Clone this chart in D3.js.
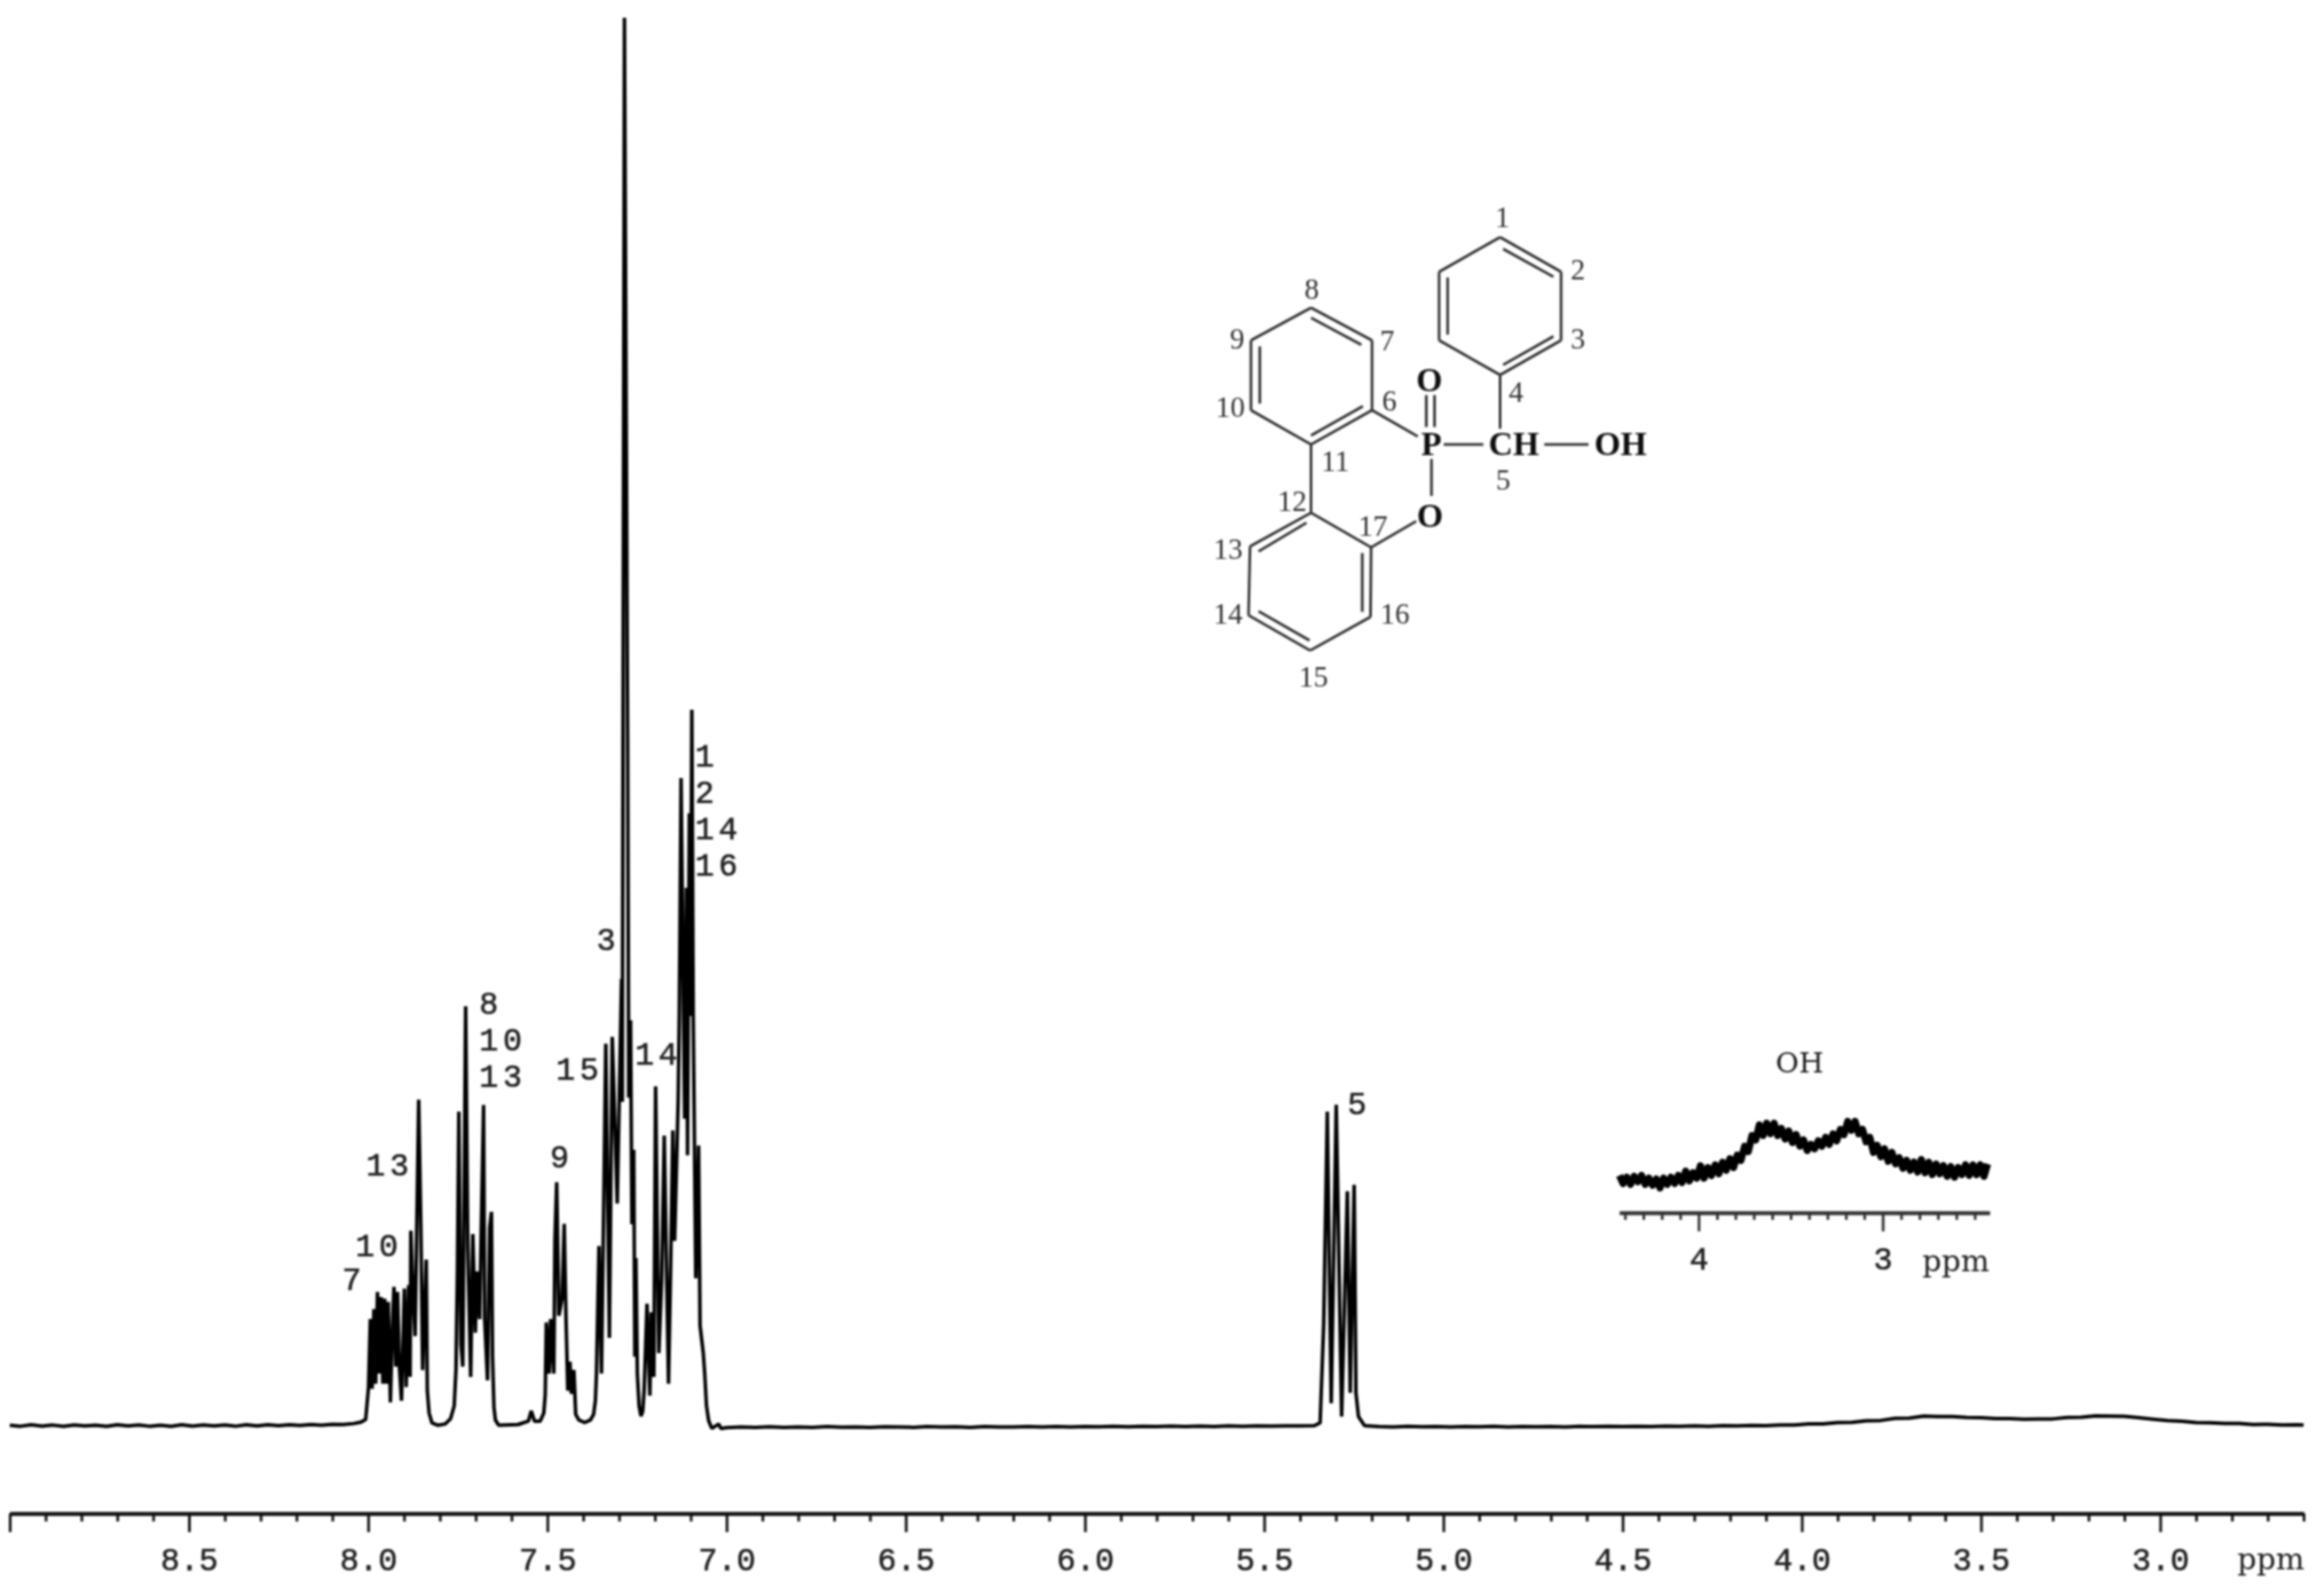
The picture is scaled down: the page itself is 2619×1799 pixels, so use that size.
<!DOCTYPE html>
<html><head><meta charset="utf-8">
<script src="https://cdn.jsdelivr.net/npm/d3@7/dist/d3.min.js"></script>
<style>html,body{margin:0;padding:0;background:#fff}svg{display:block}
.mono{font-family:"Liberation Mono",monospace;font-size:36px;fill:#222;stroke:#222;stroke-width:0.6px}
.peak{letter-spacing:5px}
.serif{font-family:"Liberation Serif",serif;fill:#333}
.slab{font-family:"DejaVu Serif",serif;font-size:34px;fill:#222}
</style></head><body><svg id="c" width="2619" height="1799"></svg>
<script>
// ---------- main spectrum, digitised (ppm / relative intensity, tallest = 100) ----------
const leftBasePpm=[9.00,8.97,8.94,8.91,8.88,8.85,8.82,8.79,8.76,8.73,8.70,8.67,8.64,8.61,8.58,8.55,8.52,8.49,8.46,8.43,8.40,8.37,8.34,8.31,8.28,8.25,8.22,8.19,8.16,8.13,8.10,8.07,8.04,8.02];
const leftBaseInt=[0.03,-0.04,0.06,-0.03,0.04,-0.05,0.05,-0.02,0.03,-0.05,0.06,-0.02,0.05,-0.04,0.03,-0.05,0.06,-0.03,0.04,-0.02,0.05,-0.04,0.06,-0.02,0.06,0.0,0.07,0.01,0.08,0.03,0.1,0.08,0.15,0.25];
const aromaticPpm=[8.007,7.999,7.994,7.989,7.984,7.979,7.974,7.969,7.964,7.959,7.954,7.949,7.944,7.938,7.933,7.928,7.923,7.918,7.913,7.907,7.899,7.894,7.887,7.883,7.881,7.875,7.869,7.859,7.853,7.848,7.838,7.835,7.830,7.822,7.805,7.785,7.770,7.760,7.755,7.751,7.747,7.741,7.736,7.728,7.722,7.714,7.708,7.701,7.697,7.689,7.678,7.675,7.667,7.661,7.656,7.653,7.649,7.645,7.636,7.582,7.553,7.545,7.536,7.520,7.510,7.506,7.503,7.495,7.491,7.482,7.479,7.474,7.468,7.459,7.453,7.448,7.443,7.437,7.433,7.426,7.421,7.412,7.396,7.380,7.371,7.366,7.363,7.356,7.349,7.337,7.327,7.319,7.305,7.293,7.291,7.285,7.276,7.273,7.268,7.264,7.259,7.256,7.253,7.249,7.244,7.239,7.234,7.230,7.222,7.214,7.210,7.203,7.198,7.189,7.181,7.174,7.162,7.156,7.150,7.145,7.135,7.132,7.127,7.117,7.112,7.109,7.104,7.101,7.097,7.093,7.086,7.078,7.074,7.065,7.061,7.056,7.050,7.041,7.022,7.016];
const aromaticInt=[0.44,2.74,7.57,2.62,8.29,2.98,9.5,3.7,9.14,2.98,9.02,2.98,8.78,1.65,6.36,9.86,4.19,9.5,4.19,1.77,9.74,2.74,9.98,3.46,13.85,9.5,6.36,23.15,14.09,3.95,11.8,2.49,0.9,0.2,0.03,0.12,0.5,1.4,4.0,10.95,22.3,5.76,4.19,29.79,12.64,3.46,13.61,6.6,10.95,7.57,22.78,7.57,3.22,14.09,15.18,4.91,1.29,0.4,0.03,0.08,0.32,1.05,0.32,0.32,0.9,2.2,7.33,3.7,7.57,3.7,13.12,17.3,7.81,9.02,14.33,7.57,2.49,4.55,2.26,3.95,0.8,0.4,0.22,0.4,0.8,1.8,3.7,12.76,3.7,27.13,6.24,27.61,15.78,31.72,23.0,100,48.5,23.3,28.8,14.3,19.6,4.9,11.9,3.7,1.4,0.68,1.0,2.5,8.66,2.13,8.05,3.46,24.1,5.15,10.47,20.6,2.98,11.43,20.97,13.12,23.15,29.06,46.0,21.8,38.2,19.2,43.5,29.1,50.85,29.1,10.47,19.9,7.1,5.15,3.7,1.4,0.35,-0.2,0.12,-0.2];
const midBasePpm=[7.00,6.96,6.92,6.88,6.84,6.80,6.76,6.72,6.68,6.64,6.60,6.56,6.52,6.48,6.44,6.40,6.36,6.32,6.28,6.24,6.20,6.16,6.12,6.08,6.04,6.00,5.96,5.92,5.88,5.84,5.80,5.76,5.72,5.68,5.64,5.60,5.56,5.52,5.48,5.44,5.40,5.36];
const midBaseInt=[-0.14,-0.1,-0.13,-0.08,-0.12,-0.09,-0.13,-0.07,-0.11,-0.09,-0.12,-0.08,-0.1,-0.12,-0.07,-0.1,-0.08,-0.12,-0.07,-0.09,-0.1,-0.06,-0.09,-0.07,-0.1,-0.06,-0.08,-0.05,-0.08,-0.05,-0.07,-0.03,-0.06,-0.03,-0.06,-0.02,-0.04,-0.01,-0.03,-0.01,-0.02,0.0];
const methinePpm=[5.344,5.334,5.324,5.313,5.299,5.284,5.268,5.26,5.249,5.244,5.237,5.22];
const methineInt=[0.2,7.2,22.3,1.6,22.8,0.65,16.65,2.33,17.1,2.33,0.65,0.0];
const rightBasePpm=[5.18,5.14,5.10,5.06,5.02,4.98,4.94,4.90,4.86,4.82,4.78,4.74,4.70,4.66,4.62,4.58,4.54,4.50,4.46,4.42,4.38,4.34,4.30,4.26,4.22,4.18,4.14,4.10,4.06,4.02,3.98,3.94,3.90,3.86,3.82,3.78,3.74,3.70,3.66,3.62,3.58,3.54,3.50,3.46,3.42,3.38,3.34,3.30,3.26,3.22,3.18,3.14,3.10,3.06,3.02,2.98,2.94,2.90,2.86,2.82,2.78,2.74,2.70,2.66,2.62,2.60];
const rightBaseInt=[-0.06,-0.09,-0.05,-0.08,-0.06,-0.09,-0.06,-0.08,-0.05,-0.09,-0.06,-0.08,-0.06,-0.09,-0.05,-0.07,-0.05,-0.07,-0.04,-0.06,-0.03,-0.05,-0.02,-0.04,0.0,-0.02,0.02,0.0,0.05,0.04,0.12,0.12,0.22,0.23,0.34,0.37,0.52,0.54,0.68,0.64,0.64,0.58,0.56,0.5,0.5,0.45,0.48,0.48,0.58,0.6,0.7,0.68,0.66,0.56,0.46,0.36,0.32,0.22,0.2,0.15,0.16,0.08,0.1,0.04,0.07,0.05];

// ---------- inset: OH signal ----------
const insetPpm=[4.43,4.41,4.39,4.37,4.35,4.33,4.31,4.29,4.27,4.25,4.23,4.21,4.19,4.17,4.15,4.13,4.11,4.09,4.07,4.05,4.03,4.01,3.99,3.97,3.95,3.93,3.91,3.89,3.87,3.85,3.83,3.81,3.79,3.77,3.75,3.73,3.71,3.69,3.67,3.65,3.63,3.61,3.59,3.57,3.55,3.53,3.51,3.49,3.47,3.45,3.43,3.41,3.39,3.37,3.35,3.33,3.31,3.29,3.27,3.25,3.23,3.21,3.19,3.17,3.15,3.13,3.11,3.09,3.07,3.05,3.03,3.01,2.99,2.97,2.95,2.93,2.91,2.89,2.87,2.85,2.83,2.81,2.79,2.77,2.75,2.73,2.71,2.69,2.67,2.65,2.63,2.61,2.59,2.57,2.55,2.53,2.51,2.49,2.47,2.45,2.43];
const insetInt=[15,6,13,5,14,8,15,5,12,4,11,1,12,5,13,6,15,7,20,9,18,12,26,12,24,15,27,17,30,21,34,24,38,32,48,42,60,55,72,60,74,62,74,60,68,56,65,52,61,48,55,43,50,45,54,48,58,50,62,54,67,61,76,66,76,62,67,53,58,41,49,36,45,31,41,28,35,23,32,21,30,19,33,18,30,16,28,17,26,14,25,13,24,16,27,15,27,16,27,14,28];

// ---------- axes ----------
const mainMajor=[9.0,8.5,8.0,7.5,7.0,6.5,6.0,5.5,5.0,4.5,4.0,3.5,3.0];
const mainMinor=[8.9,8.8,8.7,8.6,8.4,8.3,8.2,8.1,7.9,7.8,7.7,7.6,7.4,7.3,7.2,7.1,6.9,6.8,6.7,6.6,6.4,6.3,6.2,6.1,5.9,5.8,5.7,5.6,5.4,5.3,5.2,5.1,4.9,4.8,4.7,4.6,4.4,4.3,4.2,4.1,3.9,3.8,3.7,3.6,3.4,3.3,3.2,3.1,2.9,2.8,2.7,2.6];
const insetMajor=[4,3];
const insetMinor=[4.4,4.3,4.2,4.1,3.9,3.8,3.7,3.6,3.5,3.4,3.3,3.2,3.1,2.9,2.8,2.7,2.6,2.5];

// ---------- peak assignments ----------
const peakLabels=["1","2","14","16","3","8","10","13","15","14","13","10","7","9","5"];
const labelPpm=[7.088,7.088,7.088,7.088,7.33,7.69,7.69,7.69,7.41,7.19,7.94,7.97,8.04,7.46,5.235];
const labelInt=[47.6,45.0,42.4,39.8,34.5,30.0,27.4,24.8,25.3,26.4,18.5,12.8,10.4,19.1,22.9];
const labelAnchor=["start","start","start","start","middle","start","start","start","middle","middle","middle","middle","middle","middle","middle"];

// ---------- structure drawing (drawing units) ----------
const bonds=[[1020,125,1220,228],[1030,160,1195,243],[1220,228,1220,432],[1220,432,1020,535],[1195,420,1030,505],[1020,535,820,432],[820,432,820,228],[848,415,848,245],[820,228,1020,125],[1020,535,1020,695],[1165,742,1310,742],[835,742,965,742],
[400,335,600,432],[400,365,565,445],[600,432,600,640],[600,640,400,742],[570,628,400,715],[400,742,203,640],[203,640,203,432],[232,620,232,450],[203,432,400,335],[600,640,750,718],[778,595,778,690],[805,595,805,690],[795,785,795,895],[400,742,400,945],
[400,945,597,1048],[597,1048,595,1255],[568,1065,568,1240],[595,1255,397,1355],[397,1355,195,1250],[395,1325,228,1238],[195,1250,200,1045],[200,1045,400,945],[228,1060,385,975],[597,1048,745,970]];
const atomNames=["O","P","CH","OH","O"];
const atomPos=[[788,548],[795,738],[1065,738],[1415,738],[790,953]];
const locantNames=["1","2","3","4","5","6","7","8","9","10","11","12","13","14","15","16","17"];
const locantPos=[[1028,66],[1275,222],[1275,428],[1072,585],[1030,848],[657,612],[650,432],[402,280],[158,428],[135,632],[480,792],[338,910],[128,1053],[128,1245],[408,1433],[675,1245],[603,985]];

// ---------- draw ----------
const svg=d3.select("#c");
const defs=svg.append("defs");
defs.append("filter").attr("id","soft").attr("x","-1%").attr("y","-1%").attr("width","102%").attr("height","102%").append("feGaussianBlur").attr("stdDeviation",0.9);
const root=svg.append("g").attr("filter","url(#soft)");

const x=d3.scaleLinear().domain([9.0,2.6]).range([11,2596]);
const y=d3.scaleLinear().domain([0,100]).range([1607,20]);
const spectrum=[...d3.zip(leftBasePpm,leftBaseInt),...d3.zip(aromaticPpm,aromaticInt),...d3.zip(midBasePpm,midBaseInt),...d3.zip(methinePpm,methineInt),...d3.zip(rightBasePpm,rightBaseInt)];
root.append("path").datum(spectrum).attr("fill","none").attr("stroke","#000").attr("stroke-width",4).attr("stroke-linejoin","bevel")
 .attr("d",d3.line().x(d=>x(d[0])).y(d=>y(d[1])));

function styleAxis(g,w,col){g.selectAll("path.domain").attr("stroke",col).attr("stroke-width",w);g.selectAll("line").attr("stroke",col).attr("stroke-width",3);
 g.selectAll("text").attr("class","mono").attr("font-family",null).attr("font-size",null);}
const gMinor=root.append("g").attr("transform","translate(0,1706)").call(d3.axisBottom(x).tickValues(mainMinor).tickSize(9).tickSizeOuter(0).tickFormat(""));
styleAxis(gMinor,4,"#111");
const gMajor=root.append("g").attr("transform","translate(0,1706)").call(d3.axisBottom(x).tickValues(mainMajor).tickSize(21).tickSizeOuter(0).tickPadding(17).tickFormat(d=>d===9?"":d3.format(".1f")(d)));
styleAxis(gMajor,4,"#111");
root.append("text").attr("class","slab").attr("x",2597).attr("y",1769).attr("text-anchor","end").text("ppm");

// inset
const xi=d3.scaleLinear().domain([4.43,2.42]).range([1825,2242]);
const yi=d3.scaleLinear().domain([0,100]).range([1340,1240]);
root.append("path").datum(d3.zip(insetPpm,insetInt)).attr("fill","none").attr("stroke","#000").attr("stroke-width",8).attr("stroke-linejoin","round")
 .attr("d",d3.line().x(d=>xi(d[0])).y(d=>yi(d[1])));
const iMinor=root.append("g").attr("transform","translate(0,1367)").call(d3.axisBottom(xi).tickValues(insetMinor).tickSize(8).tickSizeOuter(0).tickFormat(""));
styleAxis(iMinor,4,"#333");
const iMajor=root.append("g").attr("transform","translate(0,1367)").call(d3.axisBottom(xi).tickValues(insetMajor).tickSize(21).tickSizeOuter(0).tickPadding(17).tickFormat(d3.format("d")));
styleAxis(iMajor,4,"#333");
root.append("text").attr("class","slab").attr("x",2242).attr("y",1433).attr("text-anchor","end").text("ppm");
root.append("text").attr("class","slab").attr("x",2028).attr("y",1209).attr("text-anchor","middle").attr("style","font-size:32px").text("OH");

// peak labels
root.selectAll("text.peak").data(peakLabels).join("text").attr("class","mono peak")
 .attr("x",(d,i)=>x(labelPpm[i])).attr("y",(d,i)=>y(labelInt[i])+12).attr("text-anchor",(d,i)=>labelAnchor[i]).text(d=>d);

// structure
const mx=d3.scaleLinear().domain([0,2910]).range([1340,2340]);
const my=d3.scaleLinear().domain([0,2640]).range([220,1220]);
const mol=root.append("g");
mol.selectAll("line").data(bonds).join("line").attr("stroke","#333").attr("stroke-width",3)
 .attr("x1",d=>mx(d[0])).attr("y1",d=>my(d[1])).attr("x2",d=>mx(d[2])).attr("y2",d=>my(d[3]));
mol.selectAll("text.atom").data(atomNames).join("text").attr("class","serif atom").attr("font-size",38).attr("font-weight","bold").attr("text-anchor","middle").style("fill","#111")
 .attr("x",(d,i)=>mx(atomPos[i][0])).attr("y",(d,i)=>my(atomPos[i][1])+13).text(d=>d);
mol.selectAll("text.loc").data(locantNames).join("text").attr("class","serif loc").attr("font-size",33).attr("text-anchor","middle")
 .attr("x",(d,i)=>mx(locantPos[i][0])).attr("y",(d,i)=>my(locantPos[i][1])+11).text(d=>d);
</script></body></html>
